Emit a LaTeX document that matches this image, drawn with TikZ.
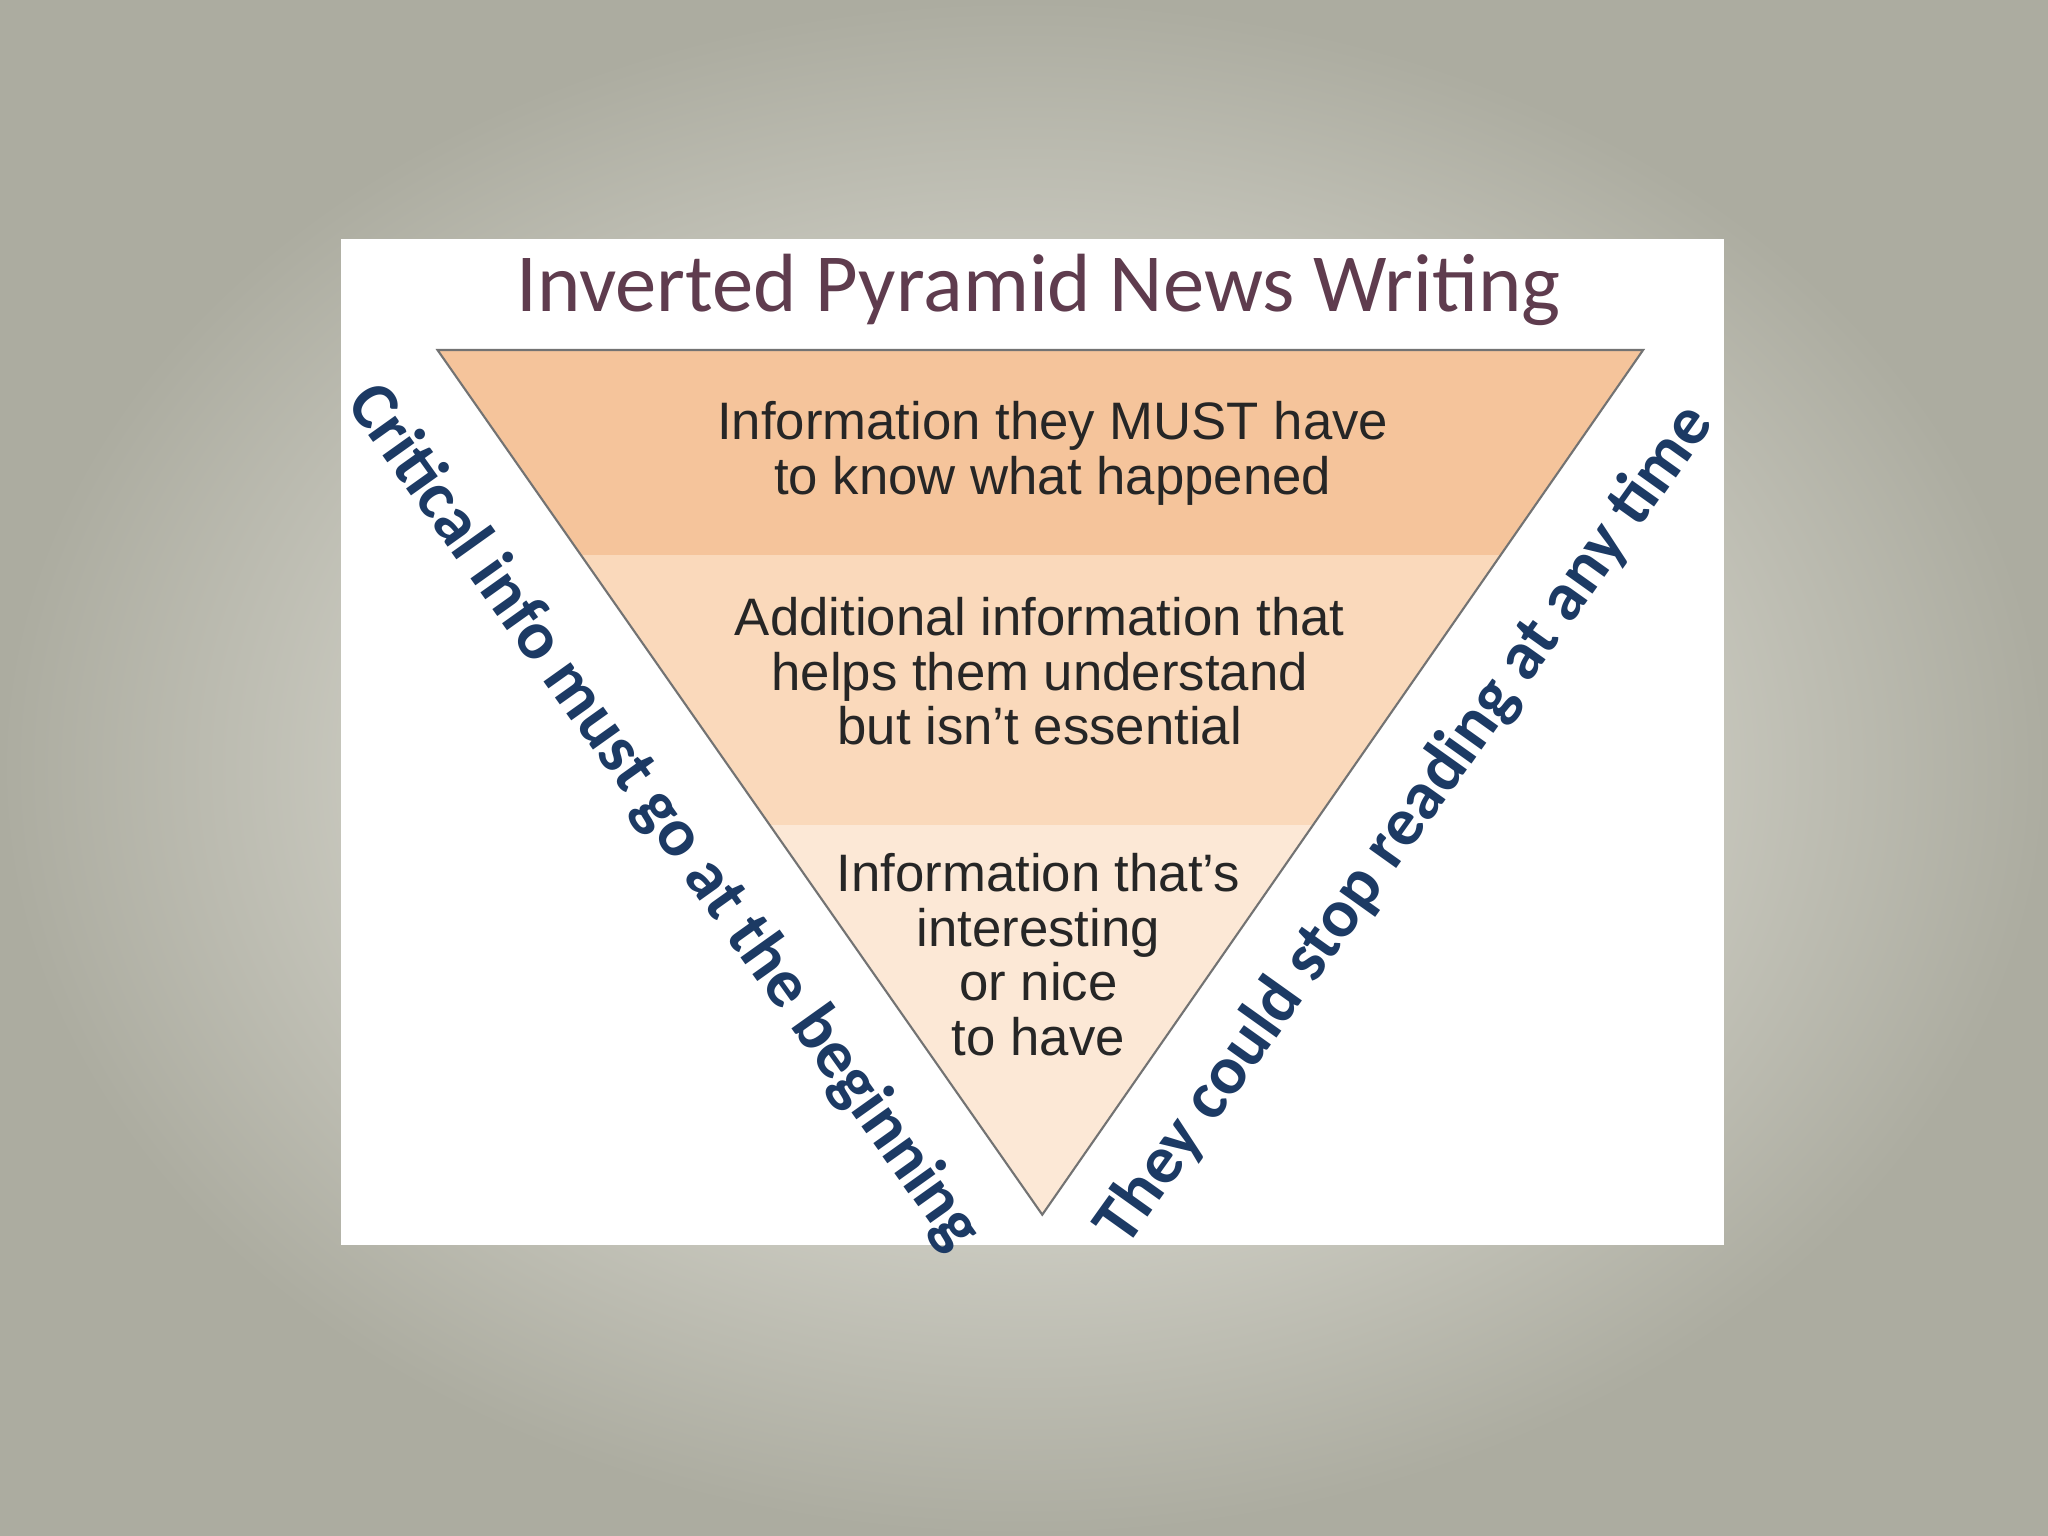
\documentclass[tikz,border=0pt]{standalone}
\usepackage{fontspec}
\setmainfont{Liberation Sans}
\newfontfamily\carlitofont{Carlito}
\definecolor{bgout}{RGB}{172,172,160}
\definecolor{bgin}{RGB}{248,247,240}
\definecolor{titlec}{RGB}{95,60,78}
\definecolor{sidec}{RGB}{28,58,100}
\definecolor{b1}{RGB}{245,196,155}
\definecolor{b2}{RGB}{250,217,187}
\definecolor{b3}{RGB}{252,232,214}
\begin{document}
\begin{tikzpicture}[x=0.01306cm,y=-0.01306cm,
  band/.style={font=\fontsize{15}{15.5}\selectfont, text=black!85, align=center},
  side/.style={font=\carlitofont\bfseries\fontsize{19.5}{22}\selectfont, text=sidec}]
\useasboundingbox (0,0) rectangle (1568,1176);
\shade[inner color=bgin, outer color=bgout] (0,0) rectangle (1568,1176);
\fill[white] (261,183) rectangle (1320,953);
\node[font=\carlitofont\fontsize{23.5}{28}\selectfont, text=titlec] (title) at (795,222) {Inverted Pyramid News Writing};
\coordinate (tl) at (335,268); \coordinate (tr) at (1258,268); \coordinate (b) at (798,930);
\begin{scope}
\clip (tl) -- (tr) -- (b) -- cycle;
\fill[b1] (300,268) rectangle (1300,425);
\fill[b2] (300,425) rectangle (1300,632);
\fill[b3] (300,632) rectangle (1300,940);
\end{scope}
\draw[black!55, line width=0.6pt] (tl) -- (tr) -- (b) -- cycle;
\node[band] (t1) at (806,347) {Information they MUST have\\to know what happened};
\node[band] (t2) at (796,514) {Additional information that\\helps them understand\\but isn't essential};
\node[band] (t3) at (795,731) {Information that's\\interesting\\or nice\\to have};
\node[side, rotate=-54.5] (l) at (508,626) {Critical info must go at the beginning};
\node[side, rotate=54.5] (r) at (1076,632) {They could stop reading at any time};
\end{tikzpicture}
\end{document}
